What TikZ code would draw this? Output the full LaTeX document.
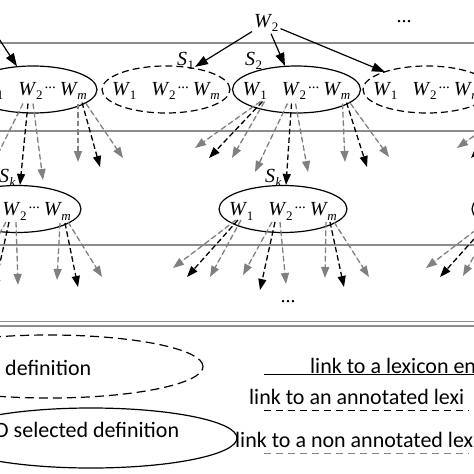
\documentclass[tikz,border=0pt]{standalone}
\usepackage{fontspec}
\setmainfont{Liberation Serif}
\newfontfamily\legfont{Carlito}
\usetikzlibrary{arrows.meta,shapes.geometric,calc}
\definecolor{lineg}{gray}{0.55}
\definecolor{arrg}{gray}{0.5}
\newcommand{\Wx}[1]{\textit{W}\kern-0.5pt\raisebox{-4.5pt}{\fontsize{13}{13}\selectfont #1}}
\newcommand{\Sx}[1]{\textit{S}\kern0.5pt\raisebox{-4.5pt}{\fontsize{13}{13}\selectfont #1}}
\newcommand{\dotsx}{\raisebox{7pt}{\fontsize{15}{15}\selectfont...}}
\newcommand{\rowtext}{\Wx{1}\hspace{15pt}\Wx{2}\hspace{2pt}\dotsx\hspace{4pt}\Wx{\textit{m}}}
\begin{document}
\begin{tikzpicture}[x=1pt,y=-1pt,
  ell/.style={ellipse, draw, line width=1.2pt, minimum width=128pt, minimum height=47pt, inner sep=0pt},
  dell/.style={ell, dash pattern=on 7pt off 4pt},
  wtext/.style={font=\fontsize{20}{20}\selectfont, inner sep=0pt, anchor=base},
  legtext/.style={font=\legfont\fontsize{22}{22}\selectfont, inner sep=0pt, anchor=base west},
  hline/.style={draw=lineg, line width=1.2pt},
  sarr/.style={draw=black, line width=1.2pt, -{Triangle[length=13pt,width=9pt]}},
  bar/.style={draw=black, line width=1.3pt, dash pattern=on 5.5pt off 3pt, -{Triangle[length=11pt,width=8pt]}},
  gar/.style={draw=arrg, line width=1.3pt, dash pattern=on 5.5pt off 3pt, -{Triangle[length=11pt,width=8pt]}, fill=arrg}
]
\useasboundingbox (0,0) rectangle (474,474);
\clip (0,0) rectangle (474,474);

% horizontal separators
\draw[hline] (0,43) -- (474,43);
\draw[hline] (0,131) -- (474,131);
\draw[hline] (0,245) -- (474,245);
\draw[hline] (0,321.5) -- (474,321.5);
\draw[hline] (0,326) -- (474,326);

% top word
\node[wtext, anchor=base west, inner sep=2pt] (W2) at (252,27) {\Wx{2}};
\node[wtext] (topdots) at (404,22) {...};
\coordinate (TL) at (-12,22);

% row 1
\node[ell] (E1) at (33,89.5) {};
\node[dell] (E2) at (166,89.5) {};
\node[ell] (E3) at (296.5,89.5) {};
\node[dell] (E4) at (427,89.5) {};
\coordinate (E5) at (558.5,89.5);
\node[wtext] (E1t) at ($(E1)+(0,5.5)$) {\rowtext};
\node[wtext] (E2t) at ($(E2)+(0,5.5)$) {\rowtext};
\node[wtext] (E3t) at ($(E3)+(0,5.5)$) {\rowtext};
\node[wtext] (E4t) at ($(E4)+(0,5.5)$) {\rowtext};
\node[wtext, anchor=base west] (S1) at (177,65) {\Sx{1}};
\node[wtext, anchor=base west] (S2) at (245,65) {\Sx{2}};

% row 2
\node[ell] (L) at (17,209) {};
\node[ell] (M) at (283,209) {};
\node[ell] (R) at (536,209) {};
\node[wtext] (Lt) at ($(L)+(0,6.5)$) {\rowtext};
\node[wtext] (Mt) at ($(M)+(0,6.5)$) {\rowtext};
\node[wtext] (Rt) at ($(R)+(0,6.5)$) {\rowtext};
\node[wtext, anchor=base west] (Sk1) at (-1,182) {\Sx{\textit{k}}};
\node[wtext, anchor=base west] (Sk2) at (265,182) {\Sx{\textit{k}}};
\node[wtext] (botdots) at (288,302) {...};

% solid arrows from the top word
\draw[sarr] (TL) -- ($(E1.north)+(-16,1)$);
\draw[sarr] (W2) -- ($(E2.north)+(29,1.5)$);
\draw[sarr] (W2) -- ($(E3.north)+(-11.5,0.5)$);
\draw[sarr] (W2) -- ($(E4.center)+(-42,-17.5)$);

% E1 arrows
\draw[gar] ($(E1)+(-10,14)$) -- (-11,172);
\draw[bar] ($(E1)+(-5,14)$) -- ($(L.north)+(3,0)$);
\draw[gar] ($(E1)+(0,14)$) -- (43,180);
\draw[gar] ($(E1)+(45,14)$) -- (78,162);
\draw[bar] ($(E1)+(49,13)$) -- (100,167);
\draw[gar] ($(E1)+(53,14)$) -- (123,158);

% E3 arrows
\draw[gar] ($(E3)+(-36,12)$) -- (195,148);
\draw[bar] ($(E3)+(-34,12)$) -- (209,158);
\draw[gar] ($(E3)+(-32,12)$) -- (232,158);
\draw[gar] ($(E3)+(-9,14)$) -- (255,172);
\draw[bar] ($(E3)+(-5,14)$) -- ($(M.north)+(3,0)$);
\draw[gar] ($(E3)+(-1,14)$) -- (308,172);
\draw[gar] ($(E3)+(46,14)$) -- (345,162);
\draw[bar] ($(E3)+(50,13)$) -- (367,167);
\draw[gar] ($(E3)+(54,14)$) -- (389,157);

% E5 (outside the frame) arrows
\draw[gar] ($(E5)+(-36,12)$) -- (457,148);
\draw[bar] ($(E5)+(-34,12)$) -- (471,158);
\draw[gar] ($(E5)+(-32,12)$) -- (494,158);

% L arrows
\draw[gar] ($(L)+(-11,13)$) -- (-23,275);
\draw[bar] ($(L)+(-8,13)$) -- (-6,290);
\draw[gar] ($(L)+(-1,13)$) -- (18,285);
\draw[gar] ($(L)+(43,14)$) -- (57,280);
\draw[bar] ($(L)+(48,14)$) -- (78,287);
\draw[gar] ($(L)+(51,13)$) -- (102,277);

% M arrows
\draw[gar] ($(M)+(-47,11)$) -- (173,268);
\draw[bar] ($(M)+(-45,11)$) -- (187,277);
\draw[gar] ($(M)+(-42,11)$) -- (210,277);
\draw[gar] ($(M)+(-11,13)$) -- (243,275);
\draw[bar] ($(M)+(-8,13)$) -- (260,290);
\draw[gar] ($(M)+(-3,13)$) -- (286,284);
\draw[gar] ($(M)+(43,13)$) -- (325,278);
\draw[bar] ($(M)+(47,13)$) -- (344,287);
\draw[gar] ($(M)+(51,13)$) -- (369,277);

% R arrows
\draw[gar] ($(R)+(-47,11)$) -- (426,268);
\draw[bar] ($(R)+(-45,11)$) -- (440,277);
\draw[gar] ($(R)+(-42,11)$) -- (463,276);

% legend
\node[ellipse, draw, line width=1.2pt, dash pattern=on 9pt off 5pt, minimum width=308pt, minimum height=63pt, inner sep=0pt] (LD) at (49,366.5) {};
\node[ellipse, draw, line width=1.2pt, minimum width=292pt, minimum height=60pt, inner sep=0pt] (LS) at (91,438) {};
\node[legtext] (LDt) at (5,375) {definition};
\node[legtext] (LSt) at (-5,437) {D selected definition};
\node[legtext] (K1) at (310,373) {link to a lexicon en};
\node[legtext] (K2) at (249,404) {link to an annotated lexi};
\node[legtext] (K3) at (235,447) {link to a non annotated lex};
\draw[black, line width=1pt] (264,374) -- (480,374);
\draw[black, line width=1pt, dash pattern=on 7pt off 5pt] (264,410) -- (469,410);
\draw[arrg, line width=1pt, dash pattern=on 7pt off 5pt] (264,453) -- (469,453);
\end{tikzpicture}
\end{document}
